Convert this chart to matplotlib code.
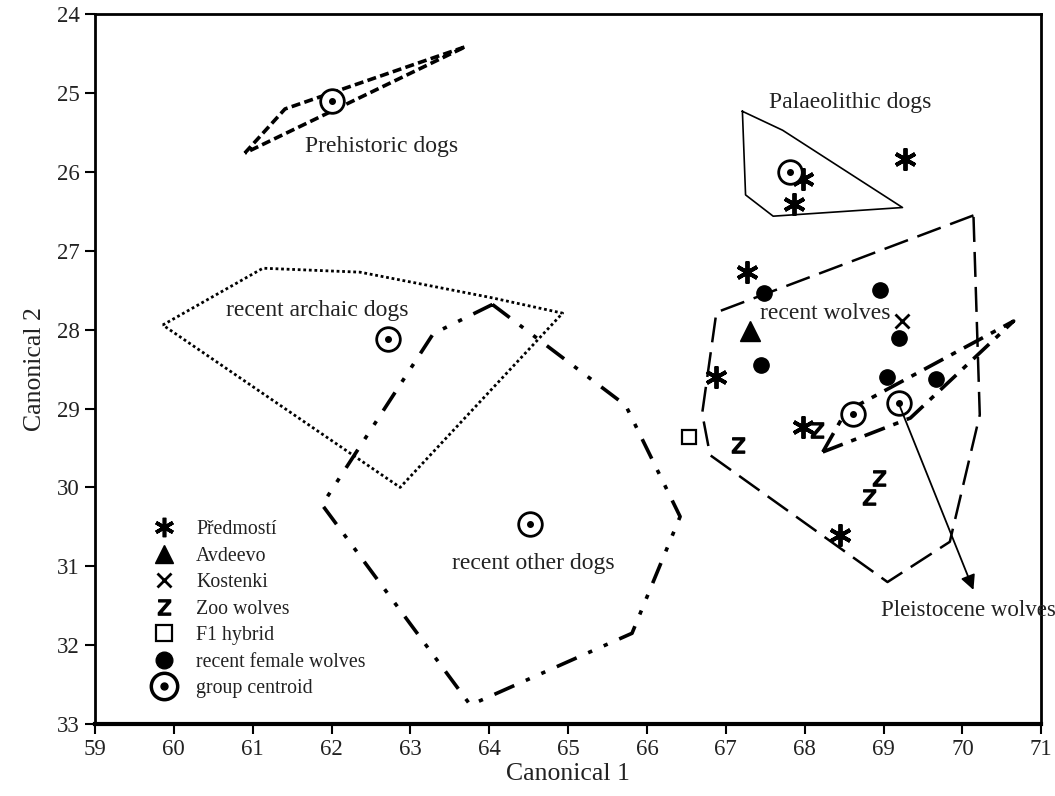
import numpy as np
import matplotlib
matplotlib.use('Agg')
import matplotlib.pyplot as plt
from matplotlib.lines import Line2D
from matplotlib.legend_handler import HandlerTuple

plt.rcParams['font.family'] = ['Liberation Serif', 'DejaVu Serif']

# Group outlines (Canonical 1, Canonical 2)
prehistoric_x = [60.90, 61.41, 63.70, 60.90]
prehistoric_y = [25.76, 25.20, 24.41, 25.76]

palaeo_x = [67.21, 67.72, 69.24, 67.60, 67.25, 67.21]
palaeo_y = [25.23, 25.47, 26.45, 26.56, 26.29, 25.23]

archaic_x = [59.86, 61.13, 62.36, 64.01, 64.93, 62.87, 59.86]
archaic_y = [27.94, 27.22, 27.27, 27.59, 27.79, 30.00, 27.94]

other_x = [64.04, 65.73, 66.42, 65.81, 63.76, 61.88, 63.29, 64.04]
other_y = [27.68, 28.96, 30.37, 31.85, 32.76, 30.22, 28.05, 27.68]

wolves_x = [70.14, 66.88, 66.70, 66.80, 69.05, 69.84, 70.22, 70.14]
wolves_y = [26.55, 27.78, 29.06, 29.59, 31.20, 30.69, 29.08, 26.55]

pleist_x = [68.23, 68.52, 70.65, 69.34, 68.23]
pleist_y = [29.55, 29.04, 27.89, 29.12, 29.55]

# Individual specimens
predmosti_x = [67.98, 67.86, 69.27, 67.27, 66.88, 67.98, 68.45]
predmosti_y = [26.09, 26.41, 25.84, 27.27, 28.60, 29.23, 30.60]
avdeevo_x = [67.31]
avdeevo_y = [28.02]
kostenki_x = [69.24]
kostenki_y = [27.89]
zoo_x = [68.16, 67.16, 68.94, 68.81]
zoo_y = [29.27, 29.46, 29.88, 30.12]
hybrid_x = [66.53]
hybrid_y = [29.36]
female_x = [67.48, 68.96, 69.19, 67.45, 69.04, 69.67]
female_y = [27.54, 27.49, 28.11, 28.45, 28.60, 28.63]

# Group centroids
centroid_x = [62.01, 67.81, 62.71, 64.52, 68.61, 69.19]
centroid_y = [25.10, 26.00, 28.12, 30.46, 29.07, 28.93]

# Group labels
group_names = ['Prehistoric dogs', 'Palaeolithic dogs', 'recent archaic dogs',
               'recent other dogs', 'recent wolves', 'Pleistocene wolves']
label_x = [62.64, 68.58, 61.82, 64.56, 68.26, 70.08]
label_y = [25.68, 25.12, 27.75, 30.96, 27.79, 31.56]

fig = plt.figure(figsize=(10.55, 7.96), dpi=100)
ax = fig.add_axes([0.090, 0.0905, 0.897, 0.8915])

k = 'black'
ax.plot(prehistoric_x, prehistoric_y, color=k, lw=2.6, ls=(0, (2.5, 1.2)))
ax.plot(palaeo_x, palaeo_y, color=k, lw=1.2, ls='-')
ax.plot(archaic_x, archaic_y, color=k, lw=2.0, ls=(0, (1, 1)))
ax.plot(other_x, other_y, color=k, lw=2.6, ls=(0, (6, 3.5, 1.2, 3.5, 1.2, 3.5)))
ax.plot(wolves_x, wolves_y, color=k, lw=1.8, ls=(0, (10, 4)))
ax.plot(pleist_x, pleist_y, color=k, lw=2.6, ls=(0, (6, 2.5, 1.5, 2.5)))

ax.annotate('', xy=(70.14, 31.30), xytext=(centroid_x[5], centroid_y[5]),
            arrowprops=dict(arrowstyle='-|>', lw=1.3, color=k, mutation_scale=22,
                            shrinkA=0, shrinkB=0))

star = (6, 2, 0)
ax.plot(predmosti_x, predmosti_y, ls='none', marker=star, ms=16, mew=2.8, color=k)
ax.plot(avdeevo_x, avdeevo_y, ls='none', marker='^', ms=15, color=k)
ax.plot(kostenki_x, kostenki_y, ls='none', marker='x', ms=10, mew=2, color=k)
ax.plot(zoo_x, zoo_y, ls='none', marker='$\\mathsf{z}$', ms=11, color=k)
ax.plot(hybrid_x, hybrid_y, ls='none', marker='s', ms=10, mfc='white', mec=k, mew=1.6)
ax.plot(female_x, female_y, ls='none', marker='o', ms=11, color=k)
ax.plot(centroid_x, centroid_y, ls='none', marker='o', ms=17, mfc='white', mec=k, mew=2)
ax.plot(centroid_x, centroid_y, ls='none', marker='o', ms=4, color=k)

for name, lx, ly in zip(group_names, label_x, label_y):
    fs = 16.5 if name == 'Pleistocene wolves' else 17
    ax.text(lx, ly, name, fontsize=fs, ha='center', va='center', color='#222222')

h_star = Line2D([], [], ls='none', marker=star, ms=14, mew=2.6, color=k)
h_tri = Line2D([], [], ls='none', marker='^', ms=13, color=k)
h_x = Line2D([], [], ls='none', marker='x', ms=10, mew=2, color=k)
h_z = Line2D([], [], ls='none', marker='$\\mathsf{z}$', ms=11, color=k)
h_sq = Line2D([], [], ls='none', marker='s', ms=11, mfc='white', mec=k, mew=1.6)
h_dot = Line2D([], [], ls='none', marker='o', ms=12, color=k)
h_c1 = Line2D([], [], ls='none', marker='o', ms=19, mfc='white', mec=k, mew=2.5)
h_c2 = Line2D([], [], ls='none', marker='o', ms=5, color=k)
handles = [h_star, h_tri, h_x, h_z, h_sq, h_dot, (h_c1, h_c2)]
labels = ['Předmostí', 'Avdeevo', 'Kostenki', 'Zoo wolves', 'F1 hybrid',
          'recent female wolves', 'group centroid']
leg = ax.legend(handles, labels, loc='lower left', bbox_to_anchor=(0.046, 0.022),
                frameon=False, fontsize=14.3, labelspacing=0.38, handlelength=1.6,
                handletextpad=0.8, borderpad=0,
                handler_map={tuple: HandlerTuple(ndivide=1)})
for t in leg.get_texts():
    t.set_color('#222222')

ax.set_xlim(59, 71)
ax.set_ylim(33, 24)
ax.set_xticks(np.arange(59, 72, 1))
ax.set_yticks(np.arange(24, 34, 1))
ax.tick_params(direction='out', length=7, width=1.5, labelsize=16.5, top=False, right=False,
               labelcolor='#222222', pad=4)
for s in ['left', 'right', 'top']:
    ax.spines[s].set_linewidth(2)
ax.spines['bottom'].set_linewidth(3)
ax.set_xlabel('Canonical 1', fontsize=18.5, labelpad=2, color='#222222')
ax.set_ylabel('Canonical 2', fontsize=18.5, labelpad=8, color='#222222')

fig.savefig('out.png', dpi=100)
